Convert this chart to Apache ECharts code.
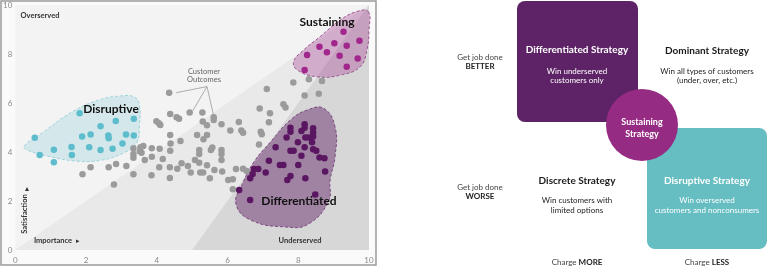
<!DOCTYPE html>
<html><head><meta charset="utf-8">
<script src="https://cdn.jsdelivr.net/npm/echarts@6/dist/echarts.min.js"></script>
<style>html,body{margin:0;padding:0;background:#fff}#c{width:768px;height:268px}</style>
</head><body><div id="c"></div>
<script>
// ---- data ----
const axisMin = 0, axisMax = 10, axisStep = 2;
const grayPoints = [
 [4.35,6.42],[4.38,5.55],[4.63,5.36],[4.56,5.42],[4.93,5.61],[5.29,5.61],[5.30,5.25],[5.42,5.09],
 [5.61,5.42],[5.61,5.31],[5.83,5.13],[6.32,5.22],[6.08,4.88],[6.39,4.88],[6.44,4.79],[4.06,5.17],
 [3.99,5.26],[4.10,5.10],[4.38,4.69],[4.67,4.45],[5.14,4.69],[5.32,4.52],[5.42,4.69],[4.39,4.35],
 [4.38,4.05],[3.34,4.15],[3.54,4.19],[3.62,4.24],[3.34,3.92],[3.34,3.77],[3.57,3.97],[3.86,4.15],
 [4.08,4.13],[3.66,3.67],[3.86,3.81],[4.17,3.71],[5.20,4.08],[5.20,3.92],[5.53,4.08],[5.57,4.18],
 [5.83,4.08],[5.83,3.92],[5.83,3.67],[3.14,3.43],[3.34,3.09],[3.85,3.05],[4.07,3.38],[4.37,3.38],
 [4.37,2.94],[4.58,3.32],[4.70,3.54],[4.88,3.43],[4.96,3.16],[5.08,3.67],[5.20,3.56],[5.23,3.16],
 [5.31,3.16],[5.42,3.46],[5.50,2.93],[5.63,3.27],[5.85,3.20],[6.24,3.31],[6.44,3.32],[6.02,2.86],
 [6.15,2.89],[6.15,2.48],[3.52,4.03],[2.85,3.51],[2.64,3.38],[2.13,3.38],[1.90,3.09],[2.79,2.67],
 [7.11,6.57],[7.86,6.84],[8.30,6.97],[8.67,6.90],[8.18,6.31],[8.58,6.38],[6.91,5.78],[7.20,5.58],
 [7.58,5.95],[7.64,5.82],[7.17,5.21],[6.94,4.83],[6.97,4.72],[6.89,4.31],[6.54,3.22]
];
const disruptivePoints = [
 [1.82,5.58],[2.41,5.05],[2.84,5.27],[3.35,5.36],[0.55,4.58],[1.89,4.63],[2.13,4.71],[2.63,4.67],
 [2.64,4.56],[3.13,4.71],[3.35,4.67],[1.09,4.09],[1.59,4.20],[2.09,4.19],[2.41,4.08],[2.75,4.13],
 [3.03,4.35],[0.69,3.88],[1.60,3.88],[1.09,3.58]
];
const differentiatedPoints = [
 [8.18,5.13],[8.18,4.99],[7.78,4.99],[7.78,4.83],[8.09,4.86],[8.42,4.97],[8.42,4.80],[8.42,4.63],
 [8.20,4.59],[8.29,4.59],[7.67,4.59],[7.99,4.40],[8.39,4.40],[7.36,4.19],[8.18,4.19],[7.78,4.05],
 [7.87,4.05],[8.42,4.11],[8.51,4.05],[8.09,3.85],[8.60,3.78],[8.74,3.74],[7.17,3.64],[7.48,3.47],
 [7.58,3.47],[8.00,3.47],[6.75,3.31],[6.87,3.31],[7.08,3.16],[6.71,3.10],[6.64,2.93],[8.76,3.20],
 [7.78,3.02],[7.69,2.86],[8.20,2.93],[6.33,2.45],[6.64,2.04],[8.48,2.27]
];
const sustainingPoints = [
 [9.28,8.91],[9.73,8.54],[9.02,8.44],[9.37,8.34],[8.60,8.30],[8.81,8.07],[9.17,7.93],[9.68,7.82],
 [8.25,7.96],[9.37,7.48],[8.18,7.35]
];
const disruptiveBlob = [
 [0.25,4.24],[0.76,4.78],[1.6,5.63],[2.36,6.12],[3.0,6.29],[3.37,6.24],[3.51,5.92],[3.51,5.1],
 [3.43,4.37],[3.06,3.96],[2.44,3.67],[1.74,3.63],[0.9,3.84],[0.34,4.08]
];
const sustainingBlob = [
 [9.98,9.73],[10.0,8.98],[9.94,8.16],[9.75,7.48],[9.19,7.14],[8.53,7.07],[7.97,7.35],[7.87,7.69],
 [8.15,8.16],[8.62,8.71],[9.19,9.39],[9.65,9.73]
];
const differentiatedBlob = [
 [8.72,5.78],[9.04,5.03],[9.04,3.81],[8.9,2.86],[8.86,2.01],[8.29,1.06],[7.64,0.94],[6.66,1.22],
 [6.24,1.88],[6.42,2.69],[6.75,3.6],[7.22,4.42],[7.78,5.31],[8.25,5.71]
];
const midZone = [[0,0],[10,0],[10,10]];
const lowZone = [[5,0],[10,0],[10,10]];
const calloutApex = [5.42,6.67];
const calloutEnds = [[4.55,6.42],[5.02,5.69],[5.61,5.47]];

// ---- chart ----
const FONT = 'Lato';
const chart = echarts.init(document.getElementById('c'), null, {renderer:'canvas'});

function polySeries(pts, fill, stroke, z, dash){
  return {
    type:'custom', coordinateSystem:'cartesian2d', z:z, silent:true,
    data:[[0,0]],
    renderItem:function(params, api){
      return {type:'polygon',
        shape:{points: pts.map(p=>api.coord(p)), smooth: dash ? 0.45 : 0},
        style:{fill:fill, stroke:stroke||null, lineWidth: stroke?1:0, lineDash: dash||null}};
    }
  };
}
function scatter(pts, color, z){
  return {type:'scatter', data:pts, symbolSize:6.5, z:z, silent:true,
    itemStyle:{color:color, opacity:1}};
}

const T = (x,y,text,opt)=>({type:'text', x:x, y:y, z:100,
  style:Object.assign({text:text, fontFamily:FONT, fontSize:8, fill:'#222',
  align:'center', verticalAlign:'middle'}, opt||{})});

const option = {
  animation:false,
  backgroundColor:'#ffffff',
  grid:{left:13, top:5, width:356, height:245, show:true, backgroundColor:'#f3f3f3', borderWidth:0},
  xAxis:{type:'value', min:axisMin, max:axisMax, interval:axisStep,
    axisLine:{show:false}, axisTick:{show:false}, splitLine:{show:false},
    axisLabel:{fontSize:8, color:'#8a8a8a', margin:6, fontFamily:FONT}},
  yAxis:{type:'value', min:axisMin, max:axisMax, interval:axisStep,
    axisLine:{show:false}, axisTick:{show:false}, splitLine:{show:false},
    axisLabel:{fontSize:8, color:'#8a8a8a', margin:3, fontFamily:FONT}},
  series:[
    polySeries(midZone, '#e9e9e9', null, 1),
    polySeries(lowZone, '#d7d7d7', null, 2),
    polySeries(disruptiveBlob, 'rgba(91,188,204,0.2)', '#9fd3dc', 3, [3,2]),
    polySeries(sustainingBlob, 'rgba(163,48,143,0.33)', '#9a5a90', 3, [3,2]),
    polySeries(differentiatedBlob, 'rgba(94,26,99,0.45)', '#7b4a7f', 3, [3,2]),
    {type:'custom', coordinateSystem:'cartesian2d', z:4, silent:true, data:[[0,0]],
      renderItem:function(params, api){
        const a = api.coord(calloutApex);
        return {type:'group', children: calloutEnds.map(e=>({type:'line',
          shape:{x1:a[0], y1:a[1], x2:api.coord(e)[0], y2:api.coord(e)[1]},
          style:{stroke:'#9a9a9a', lineWidth:0.8}}))};
      }},
    scatter(grayPoints, '#9b9b9b', 5),
    scatter(disruptivePoints, '#5dbdcd', 6),
    scatter(differentiatedPoints, '#5a1660', 6),
    scatter(sustainingPoints, '#a1278d', 6)
  ],
  graphic:[
    {type:'rect', shape:{x:1, y:1, width:375, height:264}, z:-10,
      style:{fill:'#fafafa', stroke:'#9a9a9a', lineWidth:1.5}},
    T(40,16,'Overserved',{fontSize:7.5, fontWeight:'bold', fill:'#333'}),
    T(327,22,'Sustaining',{fontSize:12, fontWeight:'bold', fill:'#111'}),
    T(111,109,'Disruptive',{fontSize:12, fontWeight:'bold', fill:'#111'}),
    T(299,201,'Differentiated',{fontSize:12, fontWeight:'bold', fill:'#111'}),
    T(300,241,'Underserved',{fontSize:7.5, fontWeight:'bold', fill:'#333'}),
    T(204,72,'Customer',{fontSize:7.5, fill:'#666'}),
    T(204,80,'Outcomes',{fontSize:7.5, fill:'#666'}),
    T(53,241,'Importance',{fontSize:7.5, fontWeight:'bold', fill:'#333'}),
    T(78,241,'\u25B8',{fontSize:7, fill:'#333'}),
    {type:'text', x:25, y:214, rotation:Math.PI/2, z:100,
      style:{text:'Satisfaction', fontFamily:FONT, fontSize:7.5, fontWeight:'bold', fill:'#333', align:'center', verticalAlign:'middle'}},
    T(26.5,188,'\u25B4',{fontSize:8, fill:'#333'}),

    // right diagram
    {type:'rect', shape:{x:517, y:1, width:121, height:121, r:8}, style:{fill:'#5e2366'}},
    {type:'rect', shape:{x:647, y:128, width:120, height:121, r:8}, style:{fill:'#66bdc2'}},
    {type:'circle', shape:{cx:642, cy:125, r:36}, style:{fill:'#952b83'}},
    T(577,50,'Differentiated Strategy',{fontSize:10, fontWeight:'bold', fill:'#fff'}),
    T(577,71,'Win underserved',{fontSize:8, fill:'#fff'}),
    T(577,80,'customers only',{fontSize:8, fill:'#fff'}),
    T(707,51,'Dominant Strategy',{fontSize:10, fontWeight:'bold', fill:'#1a1a1a'}),
    T(707,71,'Win all types of customers',{fontSize:8, fill:'#222'}),
    T(707,80,'(under, over, etc.)',{fontSize:8, fill:'#222'}),
    T(642,122,'Sustaining',{fontSize:9, fontWeight:'bold', fill:'#fff'}),
    T(642,134,'Strategy',{fontSize:9, fontWeight:'bold', fill:'#fff'}),
    T(577,181,'Discrete Strategy',{fontSize:10, fontWeight:'bold', fill:'#1a1a1a'}),
    T(577,200,'Win customers with',{fontSize:8, fill:'#222'}),
    T(577,210,'limited options',{fontSize:8, fill:'#222'}),
    T(707,181,'Disruptive Strategy',{fontSize:10, fontWeight:'bold', fill:'#fff'}),
    T(707,200,'Win overserved',{fontSize:8, fill:'#fff'}),
    T(707,210,'customers and nonconsumers',{fontSize:8, fill:'#fff'}),
    T(480,57,'Get job done',{fontSize:8, fill:'#444'}),
    T(480,66,'BETTER',{fontSize:8, fontWeight:'bold', fill:'#222'}),
    T(480,187,'Get job done',{fontSize:8, fill:'#444'}),
    T(480,196,'WORSE',{fontSize:8, fontWeight:'bold', fill:'#222'}),
    {type:'text', x:577, y:262, z:100, style:{text:'{a|Charge }{b|MORE}', align:'center', verticalAlign:'middle',
      rich:{a:{fontFamily:FONT, fontSize:8, fill:'#444', color:'#444'}, b:{fontFamily:FONT, fontSize:8, fontWeight:'bold', fill:'#222', color:'#222'}}}},
    {type:'text', x:707, y:262, z:100, style:{text:'{a|Charge }{b|LESS}', align:'center', verticalAlign:'middle',
      rich:{a:{fontFamily:FONT, fontSize:8, fill:'#444', color:'#444'}, b:{fontFamily:FONT, fontSize:8, fontWeight:'bold', fill:'#222', color:'#222'}}}}
  ]
};
chart.setOption(option);
</script></body></html>
